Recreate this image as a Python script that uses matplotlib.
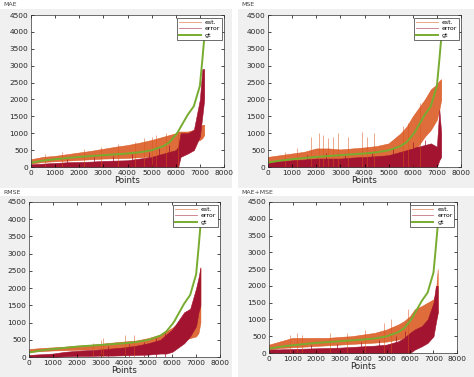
import numpy as np
import matplotlib
matplotlib.use("Agg")
import matplotlib.pyplot as plt
from matplotlib.patches import Rectangle

xs = [0, 500, 1000, 1500, 2000, 2500, 3000, 3500, 4000, 4500, 5000,
      5500, 5750, 6000, 6100, 6200, 6500, 6750, 7000, 7100, 7180]

# ground truth, same in every panel
gt = [130, 190, 230, 265, 300, 325, 350, 375, 400, 435, 495,
      620, 740, 950, 1050, 1180, 1550, 1800, 2400, 3150, 3800]

# est. band (lower / upper edge) per loss
est_lo = {
    "MAE": [100, 150, 170, 190, 210, 230, 250, 260, 270, 290, 310,
            350, 380, 400, 450, 600, 700, 750, 800, 850, 950],
    "MSE": [50, 100, 130, 150, 170, 200, 220, 250, 270, 300, 330,
            400, 450, 500, 550, 600, 900, 1100, 1400, 1700, 2000],
    "RMSE": [150, 170, 190, 200, 210, 220, 230, 250, 260, 280, 300,
             330, 350, 380, 400, 420, 500, 550, 600, 700, 1000],
    "MAE+MSE": [100, 150, 170, 190, 210, 230, 250, 270, 290, 310, 340,
                400, 450, 500, 550, 600, 700, 800, 900, 1000, 1200],
}
est_hi = {
    "MAE": [230, 300, 330, 380, 430, 480, 540, 600, 650, 720, 800,
            900, 950, 1000, 1050, 1050, 1050, 1100, 1200, 1250, 1250],
    "MSE": [300, 350, 400, 450, 550, 550, 520, 550, 580, 620, 700,
            1000, 1200, 1500, 1600, 1700, 2000, 2300, 2450, 2550, 2600],
    "RMSE": [230, 260, 280, 300, 330, 350, 380, 420, 450, 480, 550,
             650, 750, 850, 900, 950, 1100, 1300, 1500, 1800, 2600],
    "MAE+MSE": [250, 350, 450, 450, 450, 450, 480, 500, 550, 600, 700,
                850, 950, 1100, 1200, 1300, 1400, 1500, 1600, 1800, 2500],
}

# error band (lower / upper edge) per loss
err_lo = {
    "MAE": [0, 0, 0, 0, 0, 0, 0, 0, 0, 0, 0,
            0, 0, 0, 0, 300, 400, 500, 900, 1500, 2000],
    "MSE": [0, 0, 0, 0, 0, 0, 0, 0, 0, 0, 0,
            0, 0, 0, 0, 0, 0, 0, 0, 200, 300],
    "RMSE": [0, 0, 0, 20, 30, 30, 40, 40, 50, 60, 70,
             100, 100, 150, 200, 250, 400, 600, 900, 1300, 1500],
    "MAE+MSE": [0, 0, 0, 0, 0, 0, 0, 0, 0, 0, 0,
                0, 0, 0, 50, 100, 200, 300, 500, 900, 1200],
}
err_hi = {
    "MAE": [80, 100, 120, 140, 150, 160, 180, 190, 200, 250, 300,
            400, 450, 500, 600, 1000, 1000, 1100, 2000, 2900, 2900],
    "MSE": [150, 170, 200, 220, 250, 250, 250, 280, 300, 320, 350,
            450, 500, 550, 580, 600, 650, 700, 600, 1700, 1000],
    "RMSE": [60, 80, 100, 150, 180, 200, 220, 250, 280, 330, 400,
             500, 650, 800, 900, 1000, 1300, 1400, 2000, 2300, 2600],
    "MAE+MSE": [100, 110, 120, 130, 140, 150, 160, 180, 200, 220, 250,
                350, 450, 600, 650, 700, 800, 1000, 1500, 2000, 2000],
}

# single tall est. spikes visible above the band
spike_x = {
    "MAE": [600, 1300, 2200, 2900, 3600, 4300, 4700, 5000, 5200, 5600, 6100],
    "MSE": [700, 1200, 1800, 2100, 2300, 2500, 2700, 2900, 3300, 3900, 4100,
            4400, 5600, 5800, 6300],
    "RMSE": [2700, 3000, 3100, 4000, 4400],
    "MAE+MSE": [900, 1200, 1400, 2600, 3300, 4100, 4900, 5200, 5900],
}
spike_y = {
    "MAE": [380, 430, 520, 600, 680, 750, 850, 900, 950, 1000, 1050],
    "MSE": [450, 550, 900, 1000, 950, 850, 900, 1000, 900, 1050, 900,
            1000, 1200, 1300, 1900],
    "RMSE": [400, 500, 550, 650, 650],
    "MAE+MSE": [550, 600, 550, 600, 600, 700, 900, 1000, 1300],
}

# single error spikes above the red band
err_spike_x = {
    "MAE": [1500, 2600, 3400, 4200, 4900, 5300, 5700],
    "MSE": [1600, 2400, 3200, 4300, 5200, 6000, 6500],
    "RMSE": [3300, 4200, 4800, 5300, 5700],
    "MAE+MSE": [1800, 2900, 3900, 4700, 5400, 5800],
}
err_spike_y = {
    "MAE": [250, 300, 330, 380, 450, 550, 650],
    "MSE": [350, 400, 420, 450, 550, 750, 800],
    "RMSE": [330, 380, 450, 550, 700],
    "MAE+MSE": [250, 280, 320, 380, 500, 650],
}

titles = ["MAE", "MSE", "RMSE", "MAE+MSE"]

c_est = "#D95319"
c_err = "#A2142F"
c_gt = "#77AC30"

W, H = 474, 377
fig = plt.figure(figsize=(W / 100, H / 100), dpi=100)

# background layer for the gray panels
bg = fig.add_axes([0, 0, 1, 1], zorder=-10)
bg.set_xlim(0, W)
bg.set_ylim(H, 0)
bg.axis("off")

# gray panel backgrounds and axes boxes, in pixels (left, top, right, bottom)
panels = [(0, 9, 232, 188), (238, 9, 474, 188), (0, 196, 232, 377), (238, 196, 474, 377)]
boxes = [(31, 15, 224, 167), (268, 15, 461, 167), (29, 202, 220, 357), (269, 202, 457, 353)]

for i, name in enumerate(titles):
    l, t, r, b = panels[i]
    bg.add_patch(Rectangle((l, t), r - l, b - t, facecolor="#f0f0f0", edgecolor="none"))
    bg.text(l + 3, t - 4, name, fontsize=4.5, color="#444444", ha="left", va="center")

    l, t, r, b = boxes[i]
    ax = fig.add_axes([l / W, 1 - b / H, (r - l) / W, (b - t) / H])
    ax.fill_between(xs, est_lo[name], est_hi[name], color=c_est, lw=0.4, alpha=0.85)
    ax.vlines(spike_x[name], 0, spike_y[name], color=c_est, lw=0.5, alpha=0.7)
    ax.fill_between(xs, err_lo[name], err_hi[name], color=c_err, lw=0.4)
    ax.vlines(err_spike_x[name], 0, err_spike_y[name], color=c_err, lw=0.5)
    ax.plot([], [], color=c_est, lw=0.6, alpha=0.6, label="est.")
    ax.plot([], [], color=c_err, lw=0.6, alpha=0.6, label="error")
    ax.plot(xs, gt, color=c_gt, lw=1.4, label="gt")

    ax.set_xlim(0, 8000)
    ax.set_ylim(0, 4500)
    ax.set_xticks(range(0, 8001, 1000))
    ax.set_yticks(range(0, 4501, 500))
    ax.tick_params(direction="in", top=True, right=True, labelsize=5.3,
                   length=2, width=0.5, pad=2, labelcolor="#262626")
    for s in ax.spines.values():
        s.set_linewidth(0.5)
        s.set_color("#333333")
    ax.set_xlabel("Points", fontsize=6.2, labelpad=0, color="#262626")
    leg = ax.legend(loc="upper right", fontsize=4.5, handlelength=3.5,
                    borderaxespad=0.4, fancybox=False, framealpha=1,
                    labelspacing=0.2, borderpad=0.3, handletextpad=0.6)
    leg.get_frame().set_edgecolor("#333333")
    leg.get_frame().set_linewidth(0.5)

fig.savefig("out.png", dpi=100, facecolor="white")
